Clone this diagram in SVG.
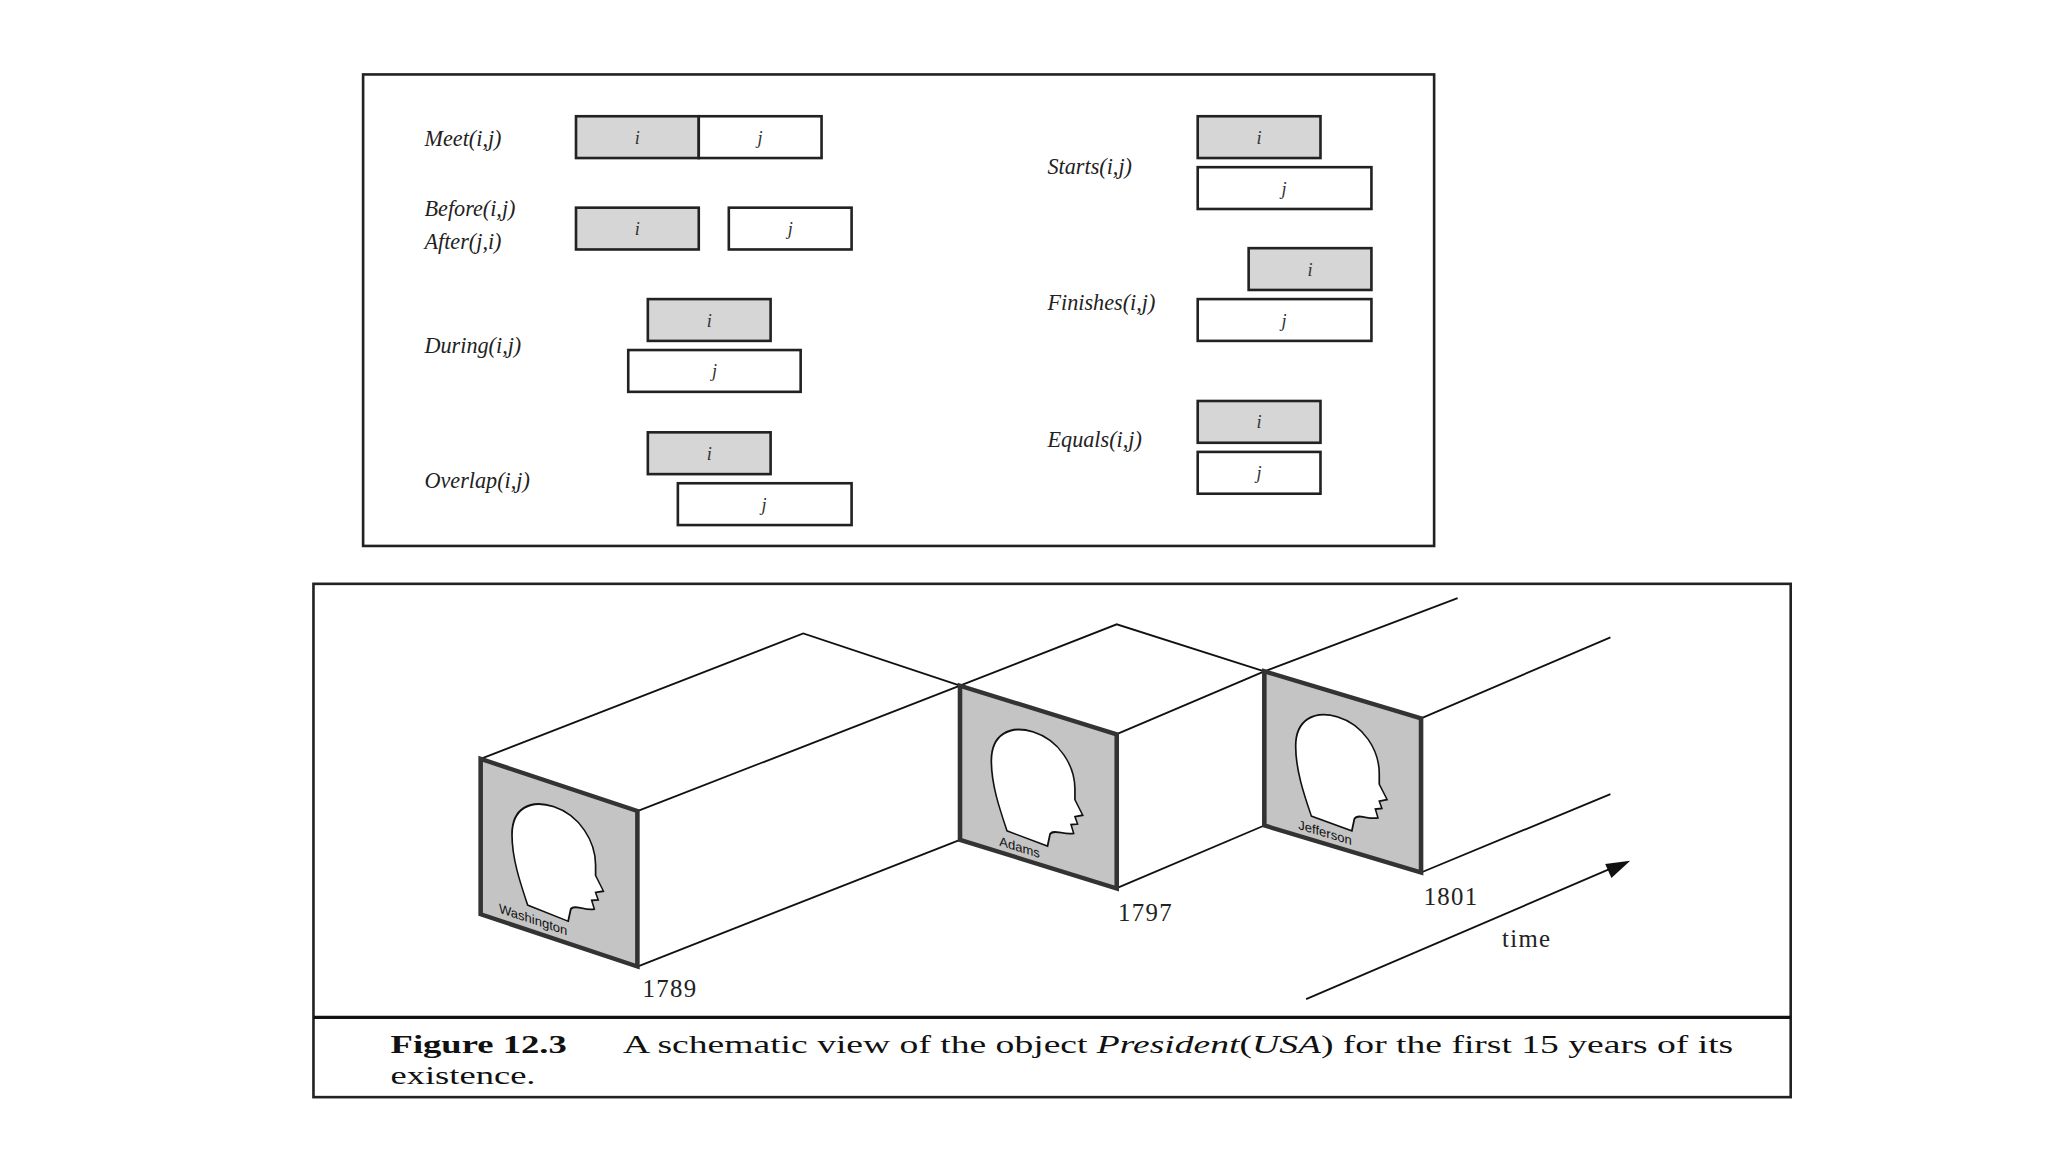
<svg xmlns="http://www.w3.org/2000/svg" width="2048" height="1152" viewBox="0 0 2048 1152">
<style>
.lbl{font-family:"Liberation Serif",serif;font-style:italic;font-size:17px;fill:#222}
.v{font-family:"Liberation Serif",serif;font-style:italic;font-size:14px;fill:#333;text-anchor:middle}
.g{fill:#d6d6d6;stroke:#222;stroke-width:2}
.w{fill:#fff;stroke:#222;stroke-width:2}
.ln{fill:none;stroke:#111;stroke-width:1.4}
.face{fill:#c4c4c4;stroke:#333;stroke-width:3.5}
.head{fill:#fff;stroke:#111;stroke-width:1.3}
.nm{font-family:"Liberation Sans",sans-serif;font-size:10px;fill:#111}
.yr{font-family:"Liberation Serif",serif;font-size:19px;fill:#222;letter-spacing:1px}
.cap{font-family:"Liberation Serif",serif;font-size:20px;fill:#111}
</style>
<defs>
<path id="hd" class="head" d="M36,100 C30,84 24,68 24,50 C24,30 38,18 56,18 C76,18 88,34 88,52 L88,60 L94,70 L88,73 L90,78 L85,80 L87,86 C80,90 72,87 69,92 L67,102 Z"/>
</defs>
<rect width="2048" height="1152" fill="#fff"/>
<g transform="scale(1.30612)">
<g id="allen">
<rect x="278" y="57" width="820" height="361" fill="none" stroke="#222" stroke-width="2"/>
<g id="meet"><text class="lbl" x="325" y="112">Meet(i,j)</text>
<rect class="g" x="441" y="89" width="94" height="32"/><rect class="w" x="535" y="89" width="94" height="32"/>
<text class="v" x="488" y="110">i</text><text class="v" x="582" y="110">j</text></g>
<g id="before"><text class="lbl" x="325" y="165">Before(i,j)</text><text class="lbl" x="325" y="191">After(j,i)</text>
<rect class="g" x="441" y="159" width="94" height="32"/><rect class="w" x="558" y="159" width="94" height="32"/>
<text class="v" x="488" y="180">i</text><text class="v" x="605" y="180">j</text></g>
<g id="during"><text class="lbl" x="325" y="270">During(i,j)</text>
<rect class="g" x="496" y="229" width="94" height="32"/><rect class="w" x="481" y="268" width="132" height="32"/>
<text class="v" x="543" y="250">i</text><text class="v" x="547" y="289">j</text></g>
<g id="overlap"><text class="lbl" x="325" y="374">Overlap(i,j)</text>
<rect class="g" x="496" y="331" width="94" height="32"/><rect class="w" x="519" y="370" width="133" height="32"/>
<text class="v" x="543" y="352">i</text><text class="v" x="585" y="391">j</text></g>
<g id="starts"><text class="lbl" x="802" y="133">Starts(i,j)</text>
<rect class="g" x="917" y="89" width="94" height="32"/><rect class="w" x="917" y="128" width="133" height="32"/>
<text class="v" x="964" y="110">i</text><text class="v" x="983" y="149">j</text></g>
<g id="finishes"><text class="lbl" x="802" y="237">Finishes(i,j)</text>
<rect class="g" x="956" y="190" width="94" height="32"/><rect class="w" x="917" y="229" width="133" height="32"/>
<text class="v" x="1003" y="211">i</text><text class="v" x="983" y="250">j</text></g>
<g id="equals"><text class="lbl" x="802" y="342">Equals(i,j)</text>
<rect class="g" x="917" y="307" width="94" height="32"/><rect class="w" x="917" y="346" width="94" height="32"/>
<text class="v" x="964" y="328">i</text><text class="v" x="964" y="367">j</text></g>
</g>
<g id="president">
<rect x="240" y="447" width="1131" height="393" fill="none" stroke="#222" stroke-width="2"/>
<line x1="240" y1="779" x2="1371" y2="779" stroke="#111" stroke-width="2.5"/>
<g id="connectors" class="ln">
<polyline points="368,581 615,485 735,525"/>
<line x1="488" y1="621" x2="735" y2="525"/>
<line x1="488" y1="740" x2="735" y2="643"/>
<polyline points="735,525 855,478 968,514"/>
<line x1="855" y1="562" x2="968" y2="514"/>
<line x1="855" y1="680" x2="968" y2="632"/>
<line x1="968" y1="514" x2="1116" y2="458"/>
<line x1="1088" y1="550" x2="1233" y2="488"/>
<line x1="1088" y1="668" x2="1233" y2="608"/>
<line x1="1000" y1="765" x2="1238" y2="663"/>
<polygon points="1246,660 1234,671 1230,662" fill="#111"/>
</g>
<g id="washington" transform="matrix(1,0.333,0,1,368,581)">
<rect class="face" x="0" y="0" width="120" height="119"/><use href="#hd"/>
<text class="nm" x="14" y="113">Washington</text></g>
<g id="adams" transform="matrix(1,0.31,0,1,735,525)">
<rect class="face" x="0" y="0" width="120" height="118"/><use href="#hd"/>
<text class="nm" x="30" y="113">Adams</text></g>
<g id="jefferson" transform="matrix(1,0.3,0,1,968,514)">
<rect class="face" x="0" y="0" width="120" height="118"/><use href="#hd"/>
<text class="nm" x="26" y="113">Jefferson</text></g>
<text class="yr" x="492" y="763">1789</text>
<text class="yr" x="856" y="705">1797</text>
<text class="yr" x="1090" y="693">1801</text>
<text class="yr" x="1150" y="725">time</text>
<text class="cap" x="299" y="806" font-weight="bold" textLength="135" lengthAdjust="spacingAndGlyphs">Figure 12.3</text>
<text class="cap" x="477" y="806" textLength="850" lengthAdjust="spacingAndGlyphs">A schematic view of the object <tspan font-style="italic">President</tspan>(<tspan font-style="italic">USA</tspan>) for the first 15 years of its</text>
<text class="cap" x="299" y="830" textLength="111" lengthAdjust="spacingAndGlyphs">existence.</text>
</g>
</g>
</svg>
